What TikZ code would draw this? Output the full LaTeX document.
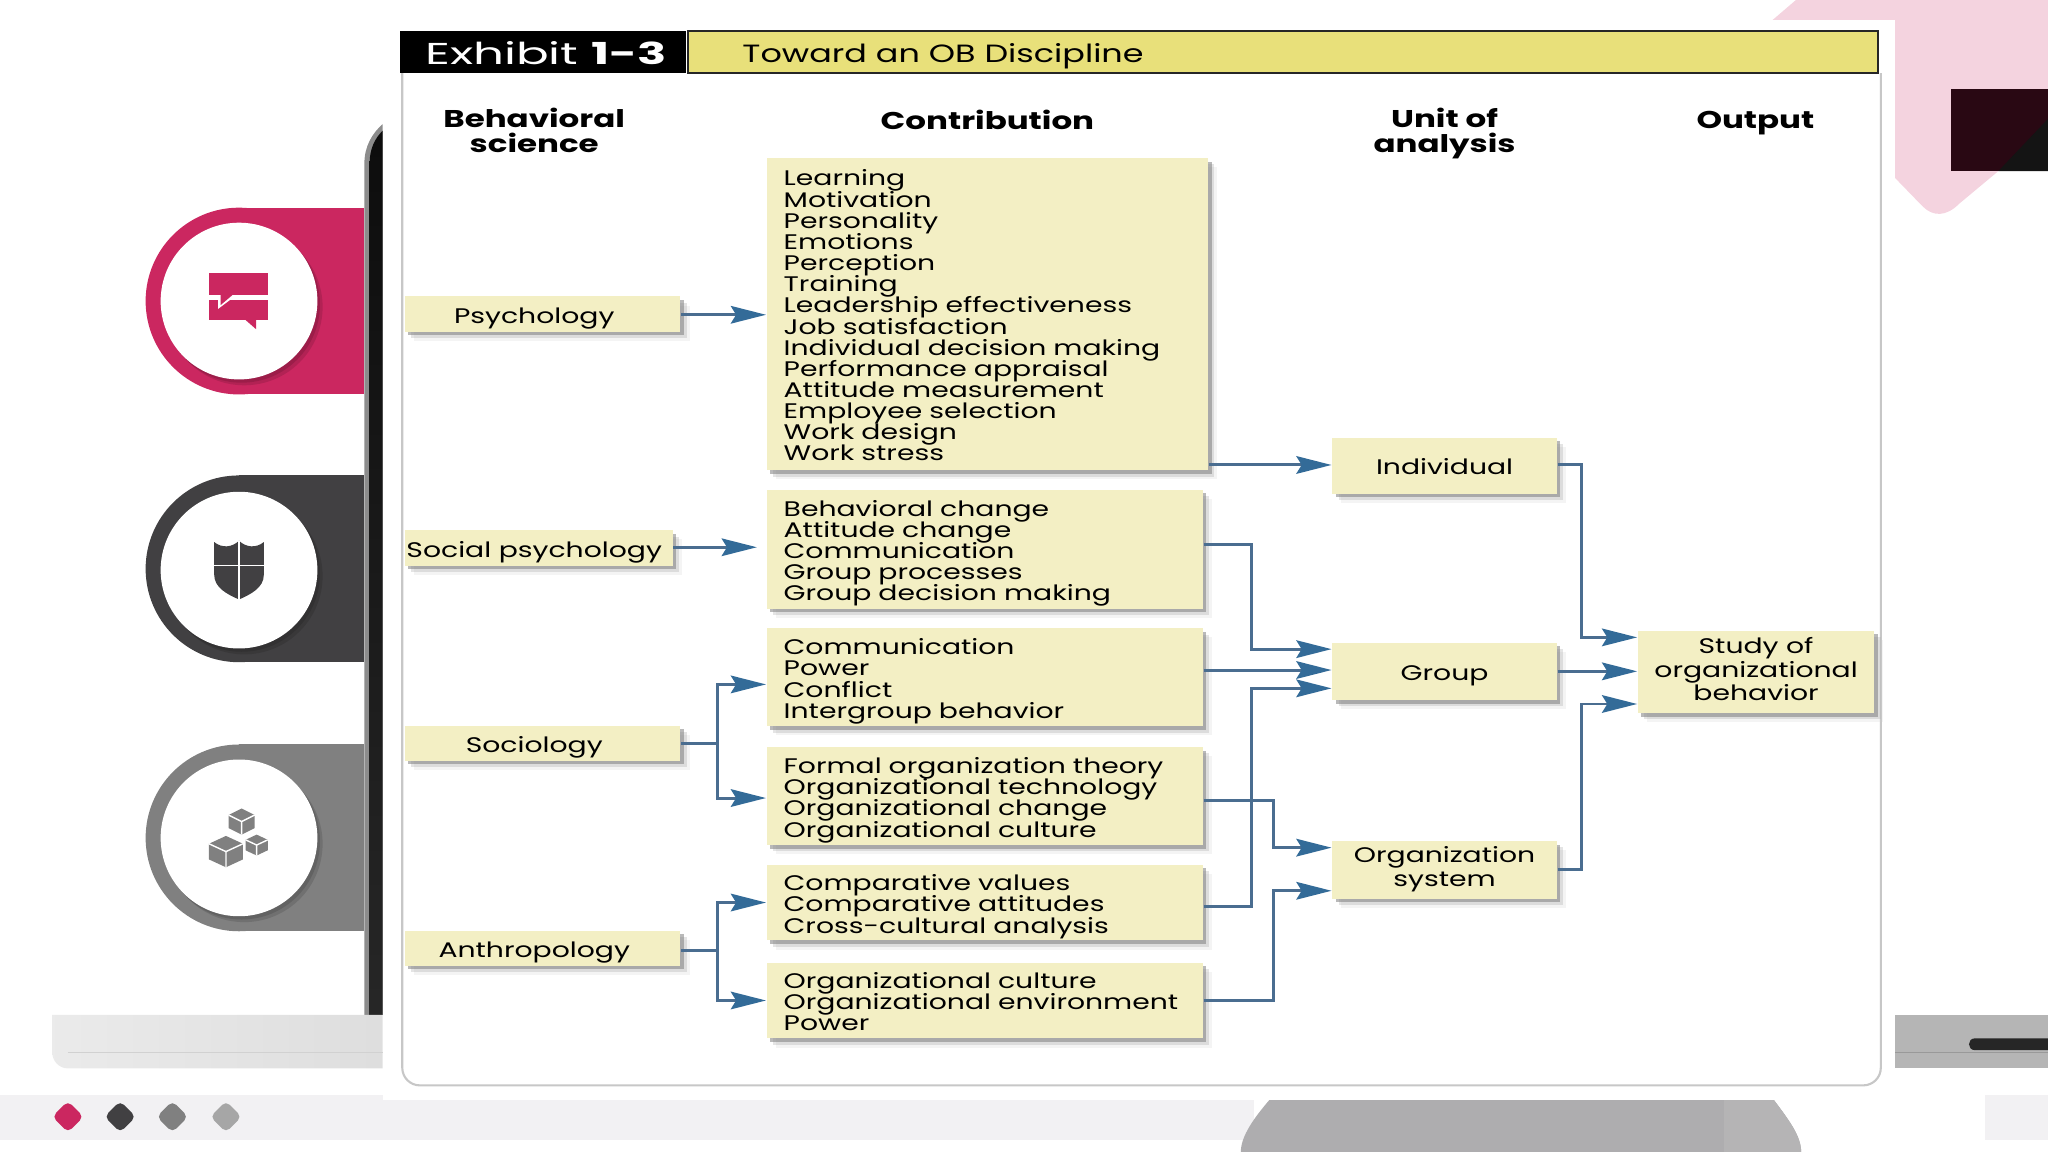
\documentclass[tikz,border=0pt]{standalone}
\usepackage{fontspec}
\usepackage{tikz}
\usetikzlibrary{arrows.meta,shadows}
\setmainfont[FakeStretch=1.34]{Poppins}
\newfontfamily\tagfont[FakeStretch=1.6]{Poppins}
\lineskiplimit=-20pt
\normallineskiplimit=-20pt
\definecolor{crimsonc}{HTML}{CB2760}
\definecolor{darkc}{HTML}{414042}
\definecolor{midc}{HTML}{808080}
\definecolor{lightc}{HTML}{A6A6A6}
\definecolor{pinkc}{HTML}{F4D3DF}
\definecolor{stripec}{HTML}{F2F1F3}
\definecolor{standc}{HTML}{AEADAF}
\definecolor{boxc}{HTML}{F3EFC4}
\definecolor{barc}{HTML}{E8E07A}
\definecolor{flowc}{HTML}{4A6D90}
\definecolor{tipc}{HTML}{336B98}
\def\ux{0.013061cm}
\tikzset{
  bx/.style 2 args={fill=boxc,inner sep=0pt,minimum width=#1*\ux,minimum height=#2*\ux,
    drop shadow={shadow xshift=2.6pt,shadow yshift=-2.6pt,fill=black!20,opacity=.2},
    drop shadow={shadow xshift=1.8pt,shadow yshift=-1.8pt,fill=black!30,opacity=.35},
    drop shadow={shadow xshift=1pt,shadow yshift=-1pt,fill=black!50,opacity=.55},
    font=\fontsize{6}{6.02}\selectfont,align=center,
    execute at begin node={\rule{0pt}{7pt}},
    execute at end node={\rule[-1.7pt]{0pt}{1.7pt}}},
  listbx/.style 2 args={bx={#1}{#2},align=left,inner xsep=13*\ux,text width=#1*\ux-26*\ux},
  unitbx/.style 2 args={bx={#1}{#2},font=\fontsize{6}{6.8}\selectfont},
  headtxt/.style={inner sep=0pt,font=\fontsize{6.9}{7}\selectfont\bfseries,align=center,
    execute at begin node={\rule{0pt}{7.5pt}},
    execute at end node={\rule[-1.7pt]{0pt}{1.7pt}}},
  flow/.style={draw=flowc,line width=.85pt},
  flowto/.style={flow,-{Stealth[length=10pt,width=5pt,inset=1.5pt,color=tipc]}},
  cubeline/.style={draw=white,line width=.4pt}
}
\begin{document}
\begin{tikzpicture}[line cap=butt,line join=miter,x=0.013061cm,y=-0.013061cm]
  \useasboundingbox (0,0) rectangle (1568,882);
  % backdrop
  \fill [stripec] (0,838) rectangle (960,873);
  \fill [stripec] (1520,838) rectangle (1568,873);
  \fill [standc] (972,842) -- (1358,842) .. controls (1370,858) and (1379,870) .. (1379,882) -- (950,882) .. controls (950,870) and (960,856) .. (972,842) -- cycle;
  \fill [standc!92!white] (1320,842) -- (1358,842) .. controls (1370,858) and (1379,870) .. (1379,882) -- (1320,882) -- cycle;
  \fill [pinkc] (1340,30) -- (1375,0) -- (1568,0) -- (1568,90) -- (1530,131) -- (1500,156) .. controls (1490,166) and (1480,166) .. (1472,158) -- (1440,125) -- cycle;
  \fill [black!80!crimsonc] (1494,68) rectangle (1568,131);
  \fill [black!92] (1530,131) -- (1568,91) -- (1568,131) -- cycle;
  % pills
  \fill [crimsonc] (183,230.5) circle (71.5);
  \fill [crimsonc] (183,159) rectangle (279,302);
  \fill [darkc] (183,435.5) circle (71.5);
  \fill [darkc] (183,364) rectangle (279,507);
  \fill [midc] (183,641.5) circle (71.5);
  \fill [midc] (183,570) rectangle (279,713);
  \fill [black,opacity=.12] (187,235) circle (60);
  \fill [black,opacity=.12] (185,233) circle (60);
  \fill [white] (183,230.5) circle (60);
  \fill [black,opacity=.12] (187,441) circle (60);
  \fill [black,opacity=.12] (185,439) circle (60);
  \fill [white] (183,436.5) circle (60);
  \fill [black,opacity=.12] (187,646) circle (60);
  \fill [black,opacity=.12] (185,644) circle (60);
  \fill [white] (183,641.5) circle (60);
  % chat icon
  \fill [crimsonc] (160,230) rectangle (205,245);
  \fill [crimsonc] (188,245) -- (196,252) -- (196,245) -- cycle;
  \fill [white] (167,226) -- (167,236.5) -- (181,226) -- cycle;
  \fill [crimsonc] (160,209) rectangle (205,226);
  \fill [crimsonc] (169,225) -- (169,233.5) -- (179,225) -- cycle;
  % shield icon
  \fill [darkc] (164,415) .. controls (170,420) and (178,419) .. (183,414) .. controls (188,419) and (196,420) .. (202,415) -- (202,440) .. controls (202,450) and (192,455) .. (183,459) .. controls (174,455) and (164,450) .. (164,440) -- cycle;
  \draw [white,line width=.5pt] (183,414) -- (183,459);
  \draw [white,line width=.5pt] (164,433) -- (202,433);
  % cubes icon
  \fill [midc] (185,619) -- (195,624) -- (195,634) -- (185,639) -- (175,634) -- (175,624) -- cycle;
  \draw [cubeline] (175,624) -- (185,629) -- (195,624) (185,629) -- (185,639);
  \fill [midc] (173,640) -- (186,646) -- (186,658) -- (173,664) -- (160,658) -- (160,646) -- cycle;
  \draw [cubeline] (160,646) -- (173,652) -- (186,646) (173,652) -- (173,664);
  \fill [midc] (196.5,639) -- (205,643) -- (205,651) -- (196.5,655) -- (188,651) -- (188,643) -- cycle;
  \draw [cubeline] (188,643) -- (196.5,647) -- (205,643) (196.5,647) -- (196.5,655);
  % monitor
  \fill [black!45] (279,777) -- (279,125) .. controls (279,112) and (285,102) .. (293,95) -- (293,777) -- cycle;
  \shade [top color=black!95,bottom color=black!85] (283,777) -- (283,125) .. controls (283,114) and (287,106) .. (293,100) -- (293,777) -- cycle;
  \shade [left color=black!8,right color=black!13] (40,777) -- (293,777) -- (293,818) -- (52,818) .. controls (45,818) and (40,812) .. (40,806) -- cycle;
  \draw [black!18,line width=.4pt] (52,806) -- (293,806);
  \fill [black!29] (1451,777) rectangle (1568,818);
  \draw [black!40,line width=.4pt] (1451,806) -- (1568,806);
  \fill [black!85] (1512,795) -- (1568,795) -- (1568,804) -- (1512,804) .. controls (1506,804) and (1506,795) .. (1512,795) -- cycle;
  % sheet
  \fill [white] (293,15) rectangle (1451,842);
  \draw [black!22,line width=.6pt,rounded corners=5pt] (308,56) -- (308,831) -- (1440,831) -- (1440,56);
  \node [fill=black,minimum width=219*\ux,minimum height=32*\ux,inner sep=0pt] (tag) at (415.5,40) {};
  \node [fill=barc,draw=black!85,line width=.5pt,minimum width=911*\ux,minimum height=32*\ux,inner sep=0pt] (bar) at (982.5,40) {};
  \node [text=white,inner sep=0pt,text height=9.5pt,text depth=2.8pt,font=\tagfont\fontsize{8.6}{9}\selectfont] (tagtxt) at (418,40) {Exhibit \textbf{1-3}};
  \node [inner sep=0pt,text height=8pt,text depth=2.1pt,font=\fontsize{7.1}{8}\selectfont] (bartxt) at (722,40) {Toward an OB Discipline};
  \node [headtxt] (hdsci) at (409,102) {Behavioral\\science};
  \node [headtxt] (hdcon) at (756,91) {Contribution};
  \node [headtxt] (hdunit) at (1106,102) {Unit of\\analysis};
  \node [headtxt] (hdout) at (1344,91) {Output};
  % science boxes
  \node [bx={211}{27}] (psych) at (415.5,240.5) {\hspace*{-4.8pt}Psychology};
  \node [bx={205}{27}] (social) at (412.5,419.5) {\hspace*{-2.6pt}Social psychology};
  \node [bx={211}{27}] (socio) at (415.5,569) {\hspace*{-4.8pt}Sociology};
  \node [bx={211}{27}] (anthro) at (415.5,726) {\hspace*{-4.8pt}Anthropology};
  % contribution boxes
  \node [listbx={338}{239}] (psyc) at (756,240.5) {Learning\\Motivation\\Personality\\Emotions\\Perception\\Training\\Leadership effectiveness\\Job satisfaction\\Individual decision making\\Performance appraisal\\Attitude measurement\\Employee selection\\Work design\\Work stress};
  \node [listbx={334}{91}] (socc) at (754,420.5) {Behavioral change\\Attitude change\\Communication\\Group processes\\Group decision making};
  \node [listbx={334}{75}] (grpc) at (754,518.5) {Communication\\Power\\Conflict\\Intergroup behavior};
  \node [listbx={334}{75}] (orgc) at (754,609.5) {Formal organization theory\\Organizational technology\\Organizational change\\Organizational culture};
  \node [listbx={334}{58}] (cmpc) at (754,691) {Comparative values\\Comparative attitudes\\Cross-cultural analysis};
  \node [listbx={334}{58}] (envc) at (754,766) {Organizational culture\\Organizational environment\\Power};
  % unit and output boxes
  \node [unitbx={172}{43}] (indiv) at (1106,356.5) {Individual};
  \node [unitbx={172}{44}] (group) at (1106,514) {Group};
  \node [unitbx={172}{44}] (orgsys) at (1106,666) {Organization\\system};
  \node [unitbx={181}{63}] (study) at (1344.5,514.5) {Study of\\organizational\\behavior};
  % connectors
  \draw [flowto] (psych.east |- 0,241) -- (psyc.west |- 0,241);
  \draw [flowto,shorten >=2.6pt] (social.east |- 0,419) -- (socc.west |- 0,419);
  \draw [flow] (socio.east) -- (549,569);
  \draw [flowto] (549,569) |- (grpc.west |- 0,524);
  \draw [flowto] (549,569) |- (orgc.west |- 0,611);
  \draw [flow] (anthro.east |- 0,728) -- (549,728);
  \draw [flowto] (549,728) |- (cmpc.west |- 0,691);
  \draw [flowto] (549,728) |- (envc.west |- 0,766);
  \draw [flowto] (psyc.east |- 0,356) -- (indiv.west |- 0,356);
  \draw [flowto] (socc.east |- 0,417) -- (958,417) -- (958,497) -- (group.west |- 0,497);
  \draw [flowto] (grpc.east |- 0,513) -- (group.west |- 0,513);
  \draw [flowto] (cmpc.east |- 0,694) -- (958,694) -- (958,527) -- (group.west |- 0,527);
  \draw [flowto] (orgc.east |- 0,613) -- (975,613) -- (975,649) -- (orgsys.west |- 0,649);
  \draw [flowto] (envc.east |- 0,766) -- (975,766) -- (975,682) -- (orgsys.west |- 0,682);
  \draw [flowto] (indiv.east |- 0,356) -- (1211,356) -- (1211,488) -- (study.west |- 0,488);
  \draw [flowto] (group.east |- 0,514) -- (study.west |- 0,514);
  \draw [flowto] (orgsys.east |- 0,666) -- (1211,666) -- (1211,539) -- (study.west |- 0,539);
  % pager
  \fill [crimsonc,rounded corners=1.5pt] (40,855) -- (52,843) -- (64,855) -- (52,867) -- cycle;
  \fill [darkc,rounded corners=1.5pt] (80,855) -- (92,843) -- (104,855) -- (92,867) -- cycle;
  \fill [midc,rounded corners=1.5pt] (120,855) -- (132,843) -- (144,855) -- (132,867) -- cycle;
  \fill [lightc,rounded corners=1.5pt] (161,855) -- (173,843) -- (185,855) -- (173,867) -- cycle;
\end{tikzpicture}
\end{document}
